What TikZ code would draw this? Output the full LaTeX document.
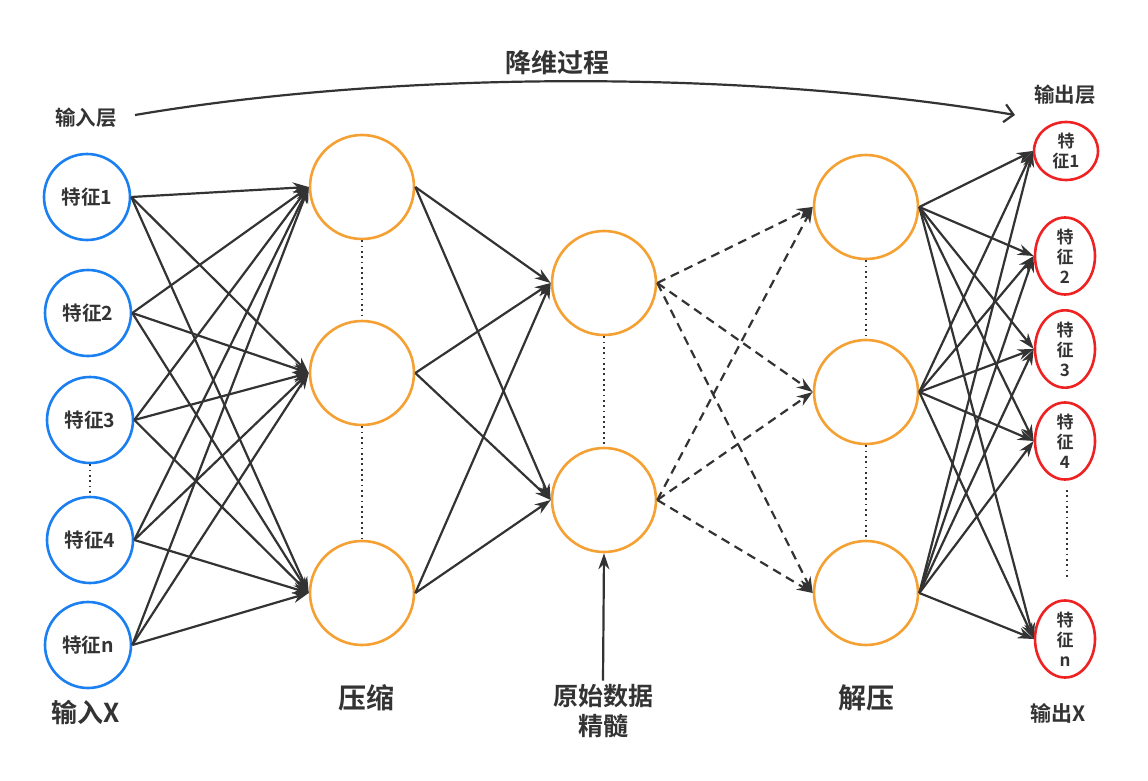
\documentclass[tikz,border=0pt]{standalone}
\usepackage{fontspec}
\setmainfont{Noto Sans CJK SC Bold}
\usetikzlibrary{arrows.meta,shapes.geometric}
\definecolor{ink}{HTML}{333333}
\definecolor{blu}{HTML}{1A7FF0}
\definecolor{org}{HTML}{F5A033}
\definecolor{rd}{HTML}{EE2222}
\begin{document}
\begin{tikzpicture}[x=1pt,y=-1pt,
  inn/.style={circle,draw=blu,line width=2.6pt,minimum size=86pt,inner sep=0pt,font=\fontsize{19.5}{21}\selectfont,text=ink},
  hid/.style={circle,draw=org,line width=2.6pt,minimum size=104pt,inner sep=0pt},
  outn/.style={ellipse,draw=rd,line width=2.6pt,minimum width=64pt,minimum height=58pt,inner sep=0pt,font=\fontsize{17}{20}\selectfont,text=ink,align=center},
  con/.style={draw=ink,line width=2.2pt,-{Stealth[length=16pt,width=11pt]}},
  dcon/.style={con,dash pattern=on 9pt off 6pt},
  dots/.style={draw=ink,line width=1.8pt,dash pattern=on 1.8pt off 3.5pt},
  lab/.style={font=\fontsize{20.5}{23}\selectfont,text=ink,align=center},
  big/.style={font=\fontsize{28}{31}\selectfont,text=ink,align=center}]
\useasboundingbox (0,0) rectangle (1148,781);
\node[inn] (i1) at (87,197) {特征1};
\node[inn] (i2) at (88,313) {特征2};
\node[inn] (i3) at (90,420) {特征3};
\node[inn] (i4) at (90,540) {特征4};
\node[inn] (i5) at (88,645) {特征n};
\node[hid] (c1) at (362,187) {};
\node[hid] (c2) at (362,373) {};
\node[hid] (c3) at (362,593) {};
\node[hid] (m1) at (604,283) {};
\node[hid] (m2) at (604,500) {};
\node[hid] (d1) at (866,207) {};
\node[hid] (d2) at (866,392) {};
\node[hid] (d3) at (866,593) {};
\node[outn] (o1) at (1066,151) {特\\征1};
\node[outn,minimum width=60pt,minimum height=62pt] (o2) at (1065,256) {特\\征\\2};
\node[outn,minimum width=60pt,minimum height=62pt] (o3) at (1065,349) {特\\征\\3};
\node[outn,minimum width=60pt,minimum height=62pt] (o4) at (1065,441) {特\\征\\4};
\node[outn,minimum width=60pt,minimum height=62pt] (o5) at (1065,639) {特\\征\\n};
\foreach \a in {i1,i2,i3,i4,i5}{\foreach \b in {c1,c2,c3}{\draw[con] (\a.east) -- (\b.west);}}
\foreach \a in {c1,c2,c3}{\foreach \b in {m1,m2}{\draw[con] (\a.east) -- (\b.west);}}
\foreach \a in {m1,m2}{\foreach \b in {d1,d2,d3}{\draw[dcon] (\a.east) -- (\b.west);}}
\foreach \a in {d1,d2,d3}{\foreach \b in {o1,o2,o3,o4,o5}{\draw[con] (\a.east) -- (\b.west);}}
\draw[dots] (i3.south) -- (i4.north);
\draw[dots] (c1.south) -- (c2.north);
\draw[dots] (c2.south) -- (c3.north);
\draw[dots] (m1.south) -- (m2.north);
\draw[dots] (d1.south) -- (d2.north);
\draw[dots] (d2.south) -- (d3.north);
\coordinate (od1) at (1067,490); \coordinate (od2) at (1067,580);
\draw[dots] (od1) -- (od2);
\node[lab] (tin) at (86,118) {输入层};
\node[lab] (tout) at (1065,95) {输出层};
\node[lab,font=\fontsize{26}{29}\selectfont] (tt) at (557,63) {降维过程};
\coordinate (a1) at (135,115); \coordinate (a2) at (1015,115);
\draw[draw=ink,line width=2.2pt,-{Straight Barb[length=9pt,width=18pt]}] (a1) .. controls (400,70) and (750,70) .. (a2);
\node[big,font=\fontsize{26}{29}\selectfont] (bx) at (86,712) {输入X};
\node[big] (bc) at (366,698) {压缩};
\node[big,font=\fontsize{25}{30}\selectfont] (bm) at (603,711) {原始数据\\精髓};
\node[big] (bd) at (866,698) {解压};
\node[lab,font=\fontsize{21}{23}\selectfont] (bo) at (1058,713) {输出X};
\draw[con] (bm.north) -- (m2.south);
\end{tikzpicture}
\end{document}
